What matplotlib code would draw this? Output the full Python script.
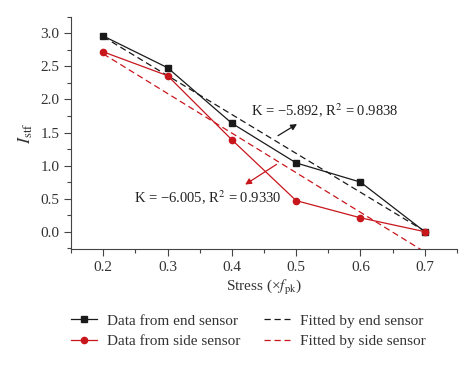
import numpy as np
import matplotlib
matplotlib.use('Agg')
import matplotlib.pyplot as plt
from matplotlib.ticker import MultipleLocator

plt.rcParams['font.family'] = ['Liberation Serif', 'DejaVu Serif']
plt.rcParams['mathtext.fontset'] = 'stix'
plt.rcParams['font.size'] = 10.5

# Данные
stress = [0.2, 0.3, 0.4, 0.5, 0.6, 0.7]
end_sensor = [2.96, 2.48, 1.64, 1.04, 0.75, 0.0]
side_sensor = [2.72, 2.36, 1.39, 0.47, 0.21, 0.0]
end_label = "K = \u22125.892, R$^2$ = 0.9838"
side_label = "K = \u22126.005, R$^2$ = 0.9330"

black = '#1a1a1a'
red = '#c8161d'

x = np.array(stress)
k_end, b_end = np.polyfit(x, end_sensor, 1)
k_side, b_side = np.polyfit(x, side_sensor, 1)

fig = plt.figure(figsize=(4.74, 3.66), dpi=100)
ax = fig.add_axes([0.15, 0.32, 0.814, 0.634])

ax.plot(x, end_sensor, color=black, lw=0.9, marker='s', ms=4.5,
        label='Data from end sensor')
ax.plot(x, k_end * x + b_end, color=black, lw=0.9, ls=(0, (5, 3)),
        label='Fitted by end sensor')
ax.plot(x, side_sensor, color=red, lw=0.9, marker='o', ms=4.5,
        label='Data from side sensor')
ax.plot(x, k_side * x + b_side, color=red, lw=0.9, ls=(0, (5, 3)),
        label='Fitted by side sensor')

# Подписи с стрелками
ax.annotate('', xy=(0.505, 1.65), xytext=(0.468, 1.43),
            arrowprops=dict(arrowstyle='-|>', color=black, lw=0.9,
                            mutation_scale=9))
ax.text(0.545, 1.82, end_label, ha='center', va='center', fontsize=10.5,
        color='#222222')
ax.annotate('', xy=(0.417, 0.69), xytext=(0.473, 1.04),
            arrowprops=dict(arrowstyle='-|>', color=red, lw=0.9,
                            mutation_scale=9))
ax.text(0.362, 0.51, side_label, ha='center', va='center', fontsize=10.5,
        color='#222222')

ax.set_xlim(0.15, 0.75)
ax.set_ylim(-0.26, 3.25)
ax.xaxis.set_major_locator(MultipleLocator(0.1))
ax.xaxis.set_minor_locator(MultipleLocator(0.05))
ax.yaxis.set_major_locator(MultipleLocator(0.5))
ax.yaxis.set_minor_locator(MultipleLocator(0.25))
ax.set_xticks([0.2, 0.3, 0.4, 0.5, 0.6, 0.7])
ax.tick_params(which='major', direction='out', length=5, width=0.8, colors='#444444',
               labelcolor='#333333', labelsize=11)
ax.tick_params(which='minor', direction='out', length=3, width=0.8, colors='#444444')
for s in ['top', 'right']:
    ax.spines[s].set_visible(False)
for s in ['left', 'bottom']:
    ax.spines[s].set_color('#444444')
    ax.spines[s].set_linewidth(0.8)

ax.set_xlabel('Stress (\u00d7$f_{\\rm pk}$)', fontsize=11, color='#333333', labelpad=3)
ax.set_ylabel('$I_{\\rm stf}$', fontsize=13, color='#333333', labelpad=4)

handles, labels = ax.get_legend_handles_labels()
order = [0, 2, 1, 3]
fig.legend([handles[i] for i in order], [labels[i] for i in order],
           loc='upper left', bbox_to_anchor=(0.12, 0.18), ncol=2,
           frameon=False, fontsize=11, handlelength=1.7, columnspacing=1.6,
           labelspacing=0.45, handletextpad=0.65, labelcolor='#333333')

fig.savefig('out.png', dpi=100)
